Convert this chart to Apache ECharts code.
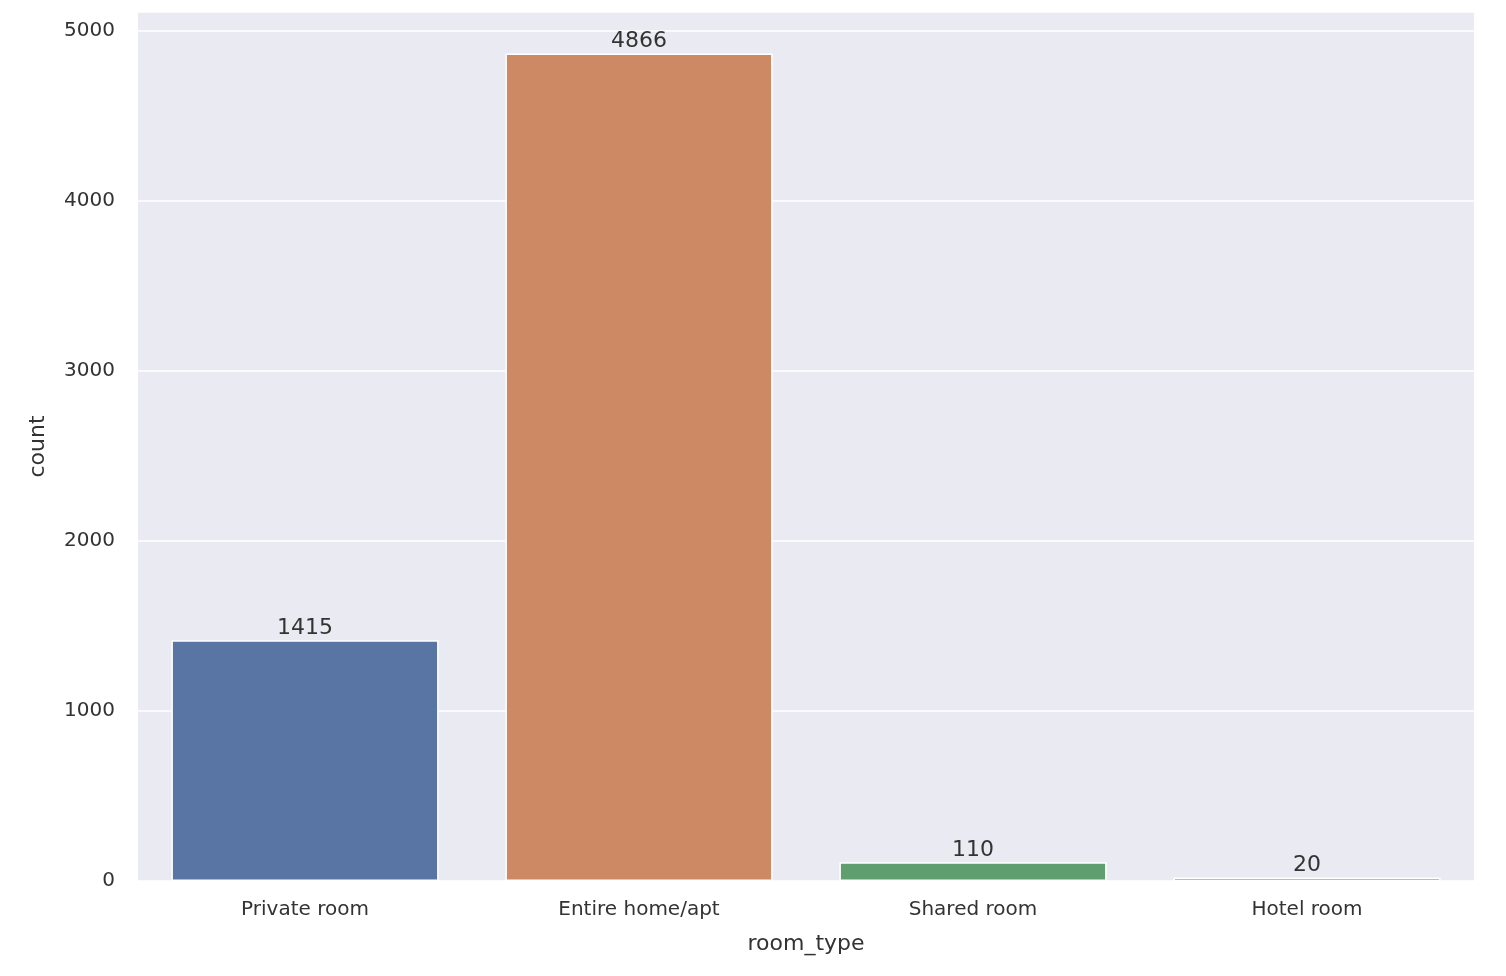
<!DOCTYPE html>
<html>
<head>
<meta charset="utf-8">
<script src="https://cdn.jsdelivr.net/npm/echarts@6/dist/echarts.min.js"></script>
<style>
  html, body { margin: 0; padding: 0; background: #fff; }
  #chart { width: 1506px; height: 976px; }
</style>
</head>
<body>
<div id="chart"></div>
<script>
const categories = ['Private room', 'Entire home/apt', 'Shared room', 'Hotel room'];
const counts = [1415, 4866, 110, 20];
const barColors = ['#5975a4', '#cc8963', '#5f9e6e', '#b55d60'];

const chart = echarts.init(document.getElementById('chart'));

chart.setOption({
  animation: false,
  textStyle: { fontFamily: 'DejaVu Sans' },
  grid: { left: 138, right: 32, top: 12, bottom: 95, backgroundColor: '#eaeaf2', show: true, borderWidth: 0 },
  xAxis: {
    type: 'category',
    data: categories,
    name: 'room_type',
    nameLocation: 'middle',
    nameGap: 52,
    nameTextStyle: { fontSize: 22, color: '#333333' },
    axisLine: { show: false },
    axisTick: { show: false },
    axisLabel: { fontSize: 20, color: '#333333', margin: 19 }
  },
  yAxis: {
    type: 'value',
    min: 0,
    max: 5109.3,
    interval: 1000,
    name: 'count',
    nameLocation: 'middle',
    nameGap: 89,
    nameTextStyle: { fontSize: 22, color: '#333333' },
    axisLine: { show: false },
    axisTick: { show: false },
    axisLabel: {
      fontSize: 20, color: '#333333', margin: 23,
      formatter: v => (v % 1000 === 0 ? String(v) : '')
    },
    splitLine: { lineStyle: { color: '#ffffff', width: 1.5 } }
  },
  series: [{
    type: 'bar',
    barWidth: '80%',
    data: counts.map((v, i) => ({
      value: v,
      itemStyle: { color: barColors[i], borderColor: '#ffffff', borderWidth: 1.5 }
    })),
    label: {
      show: true,
      position: 'top',
      distance: 1,
      fontSize: 22,
      color: '#333333'
    }
  }]
});
</script>
</body>
</html>
